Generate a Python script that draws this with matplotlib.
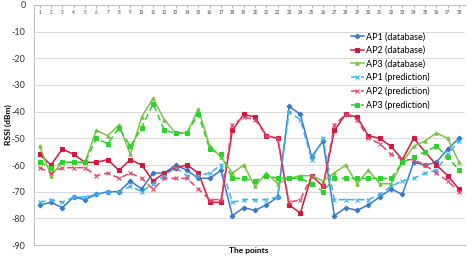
import matplotlib
matplotlib.use("Agg")
import matplotlib.pyplot as plt

plt.rcParams["font.family"] = ["Lato", "DejaVu Sans"]

points = list(range(1, 39))

ap1_db = [-75, -74, -76, -72, -73, -71, -70, -70, -66, -69, -63, -63, -60, -62, -65, -65, -62, -79, -76,
          -77, -75, -72, -38, -41, -57, -51, -79, -76, -77, -75, -72, -69, -71, -59, -60, -59, -54, -50]
ap2_db = [-56, -60, -54, -56, -59, -59, -58, -62, -58, -60, -66, -63, -61, -60, -63, -74, -74, -47, -41,
          -42, -49, -50, -75, -78, -64, -68, -47, -41, -42, -49, -50, -53, -58, -50, -55, -60, -64, -69]
ap3_db = [-53, -64, -59, -59, -59, -47, -49, -45, -56, -42, -35, -43, -48, -48, -39, -53, -57, -63, -60,
          -68, -63, -67, -65, -64, -64, -66, -63, -60, -67, -62, -67, -67, -59, -53, -51, -48, -50, -59]
ap1_pred = [-74, -73, -74, -72, -72, -71, -70, -70, -68, -70, -67, -64, -61, -64, -64, -63, -60, -74, -73,
            -73, -73, -72, -40, -43, -58, -50, -73, -73, -73, -73, -71, -68, -66, -65, -63, -62, -56, -51]
ap2_pred = [-61, -63, -61, -61, -61, -64, -63, -65, -63, -65, -69, -65, -65, -65, -69, -73, -73, -45, -42,
            -43, -49, -50, -74, -73, -64, -68, -45, -41, -43, -50, -52, -56, -58, -58, -60, -63, -66, -70]
ap3_pred = [-59, -61, -59, -59, -59, -50, -52, -46, -53, -46, -37, -47, -48, -48, -41, -54, -56, -65, -65,
            -66, -64, -65, -65, -65, -67, -70, -65, -65, -65, -65, -65, -65, -59, -57, -55, -53, -57, -62]

series = [
    ("AP1 (database)", ap1_db, "#3a78c9", "-", "D"),
    ("AP2 (database)", ap2_db, "#d1183f", "-", "s"),
    ("AP3 (database)", ap3_db, "#7cc242", "-", "^"),
    ("AP1 (prediction)", ap1_pred, "#3cb4ea", "--", "x"),
    ("AP2 (prediction)", ap2_pred, "#e4456e", "--", "x"),
    ("AP3 (prediction)", ap3_pred, "#2fd12f", "--", "s"),
]

fig = plt.figure(figsize=(4.74, 2.59), dpi=100)
ax = fig.add_axes([34 / 474, 1 - 245 / 259, (464.7 - 34) / 474, 240 / 259])

for label, vals, color, ls, mk in series:
    ax.plot(points, vals, color=color, linestyle=ls, linewidth=1.1, marker=mk,
            markersize=2.4, markeredgewidth=0.8, label=label,
            dashes=(4, 2.5) if ls == "--" else (None, None))

ax.set_xlim(0.5, 38.5)
ax.set_ylim(-90, 0)
ax.set_yticks(range(-90, 1, 10))
ax.set_yticklabels([str(v) for v in range(-90, 1, 10)], fontsize=6.5, color="#333333")
ax.set_xticks(points)
ax.set_xticklabels([str(p) for p in points], fontsize=3.3, color="#444444")
ax.tick_params(axis="x", top=True, labeltop=True, bottom=False, labelbottom=False,
               direction="in", length=2, pad=-7, color="#bbbbbb")
ax.tick_params(axis="y", length=0, pad=6)

ax.grid(axis="y", color="#d9d9d9", linewidth=0.7)
ax.set_axisbelow(True)
for side in ["top", "bottom", "left"]:
    ax.spines[side].set_color("#bfbfbf")
    ax.spines[side].set_linewidth(0.7)
ax.spines["right"].set_visible(False)

fig.text(8 / 474, 1 - 125 / 259, "RSSI (dBm)", rotation=90, fontsize=6, fontweight="bold",
         ha="center", va="center")
fig.text(249 / 474, 1 - 250 / 259, "The points", fontsize=6, fontweight="bold",
         ha="center", va="center")

leg = ax.legend(loc="upper left", bbox_to_anchor=(351 / 474, 1 - 32.5 / 259),
                bbox_transform=fig.transFigure, frameon=False, fontsize=6.5,
                handlelength=1.4, handletextpad=0.25, labelspacing=0.48, borderpad=0,
                borderaxespad=0)

fig.savefig("out.png", dpi=100)
